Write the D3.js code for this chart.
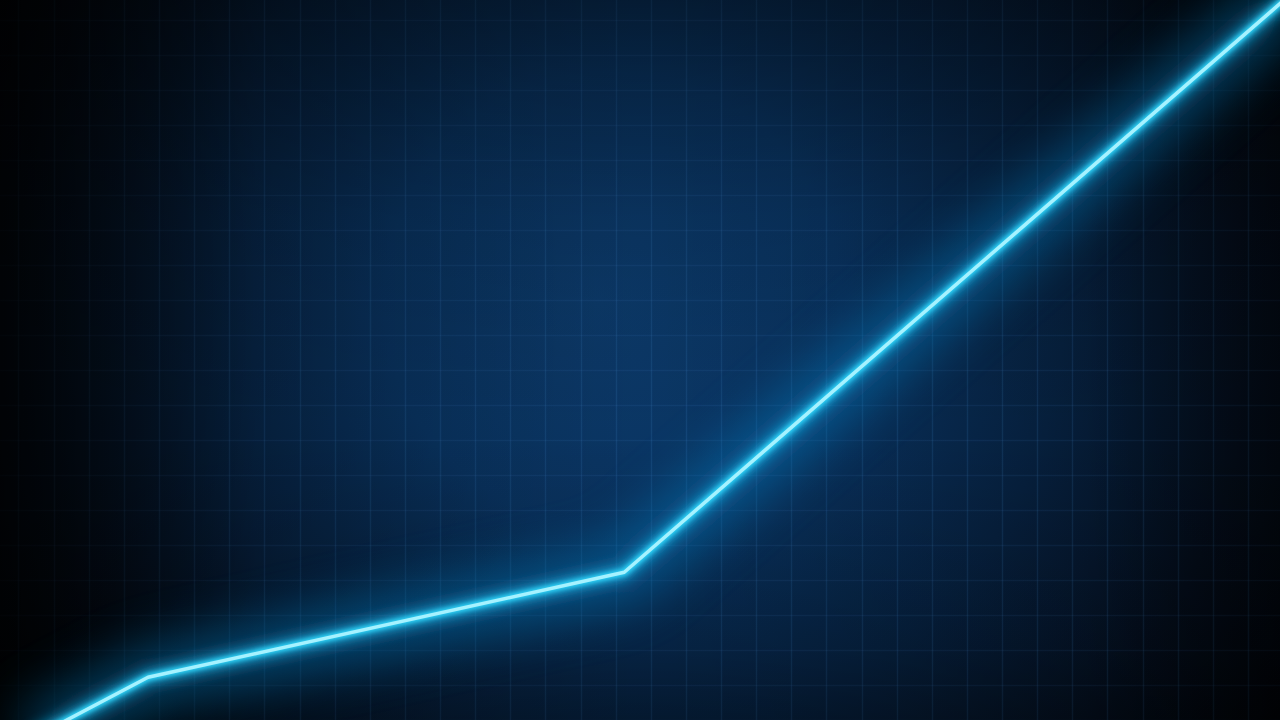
<!DOCTYPE html>
<html><head><meta charset="utf-8">
<script src="https://cdn.jsdelivr.net/npm/d3@7"></script>
<style>html,body{margin:0;padding:0;background:#02060c;overflow:hidden}</style>
</head><body>
<svg id="c" width="1280" height="720"></svg>
<script>
// data
const xValues = [-0.5, 1, 7.1, 15.6];
const yValues = [-2.7, 6.1, 21.1, 103.3];
const gridXStart = -1.11;
const gridXStep = 0.45;   // grid spacing in x units
const gridYStep = 5;      // grid spacing in y units

const W = 1280, H = 720;
const svg = d3.select('#c');
const x = d3.scaleLinear().domain([0, 15.5]).range([70, 1280]);
const y = d3.scaleLinear().domain([0, 100]).range([720, 20]);

const defs = svg.append('defs');
const rg = defs.append('radialGradient').attr('id','bg').attr('gradientUnits','userSpaceOnUse')
  .attr('cx',640).attr('cy',300).attr('r',760).attr('fx',600).attr('fy',300);
[[0,'#0c3a6a'],[0.3,'#093360'],[0.58,'#062140'],[0.82,'#040f1f'],[1,'#01050b']].forEach(([o,c])=>rg.append('stop').attr('offset',o).attr('stop-color',c));
const lg = defs.append('linearGradient').attr('id','vig').attr('x1',0).attr('x2',1).attr('y1',0).attr('y2',0);
[[0,'rgba(0,0,0,0.8)'],[0.2,'rgba(0,0,0,0.2)'],[0.5,'rgba(0,0,0,0)'],[0.85,'rgba(0,0,0,0.08)'],[1,'rgba(0,0,0,0.45)']].forEach(([o,c])=>lg.append('stop').attr('offset',o).attr('stop-color',c));
const tg = defs.append('linearGradient').attr('id','vigT').attr('x1',0).attr('x2',0).attr('y1',0).attr('y2',1);
[[0,'rgba(0,0,0,0.4)'],[0.3,'rgba(0,0,0,0.1)'],[0.6,'rgba(0,0,0,0)'],[0.9,'rgba(0,0,0,0.15)'],[1,'rgba(0,0,0,0.3)']].forEach(([o,c])=>tg.append('stop').attr('offset',o).attr('stop-color',c));

const f1 = defs.append('filter').attr('id','g1').attr('x','-20%').attr('y','-20%').attr('width','140%').attr('height','140%');
f1.append('feGaussianBlur').attr('stdDeviation',28);
const f2 = defs.append('filter').attr('id','g2').attr('x','-20%').attr('y','-20%').attr('width','140%').attr('height','140%');
f2.append('feGaussianBlur').attr('stdDeviation',7);
const f3 = defs.append('filter').attr('id','g3').attr('x','-20%').attr('y','-20%').attr('width','140%').attr('height','140%');
f3.append('feGaussianBlur').attr('stdDeviation',2.5);

svg.append('rect').attr('width',W).attr('height',H).attr('fill','url(#bg)');

// grid
const gx = d3.range(gridXStart, 17, gridXStep);
const gy = d3.range(-5, 110, gridYStep);
const grid = svg.append('g');
grid.selectAll('line.v').data(gx).join('line')
  .attr('x1',d=>Math.round(x(d))+0.5).attr('x2',d=>Math.round(x(d))+0.5).attr('y1',0).attr('y2',H)
  .attr('stroke','rgba(70,140,210,0.16)').attr('stroke-width',1.5);
grid.selectAll('line.h').data(gy).join('line')
  .attr('y1',d=>Math.round(y(d))+0.5).attr('y2',d=>Math.round(y(d))+0.5).attr('x1',0).attr('x2',W)
  .attr('stroke','rgba(70,140,210,0.11)').attr('stroke-width',1.5);

svg.append('rect').attr('width',W).attr('height',H).attr('fill','url(#vig)');
svg.append('rect').attr('width',W).attr('height',H).attr('fill','url(#vigT)');

const pts = xValues.map((v,i)=>[v, yValues[i]]);
const line = d3.line().x(d=>x(d[0])).y(d=>y(d[1]));
const p = line(pts);
svg.append('path').attr('d',p).attr('fill','none').attr('stroke','#0a86cc').attr('stroke-width',44).attr('opacity',0.6).attr('filter','url(#g1)');
svg.append('path').attr('d',p).attr('fill','none').attr('stroke','#12bdf2').attr('stroke-width',12).attr('opacity',0.85).attr('filter','url(#g2)');
svg.append('path').attr('d',p).attr('fill','none').attr('stroke','#35dcff').attr('stroke-width',7).attr('filter','url(#g3)');
svg.append('path').attr('d',p).attr('fill','none').attr('stroke','#a6f2ff').attr('stroke-width',3.5).attr('stroke-linejoin','round');
</script>
</body></html>
